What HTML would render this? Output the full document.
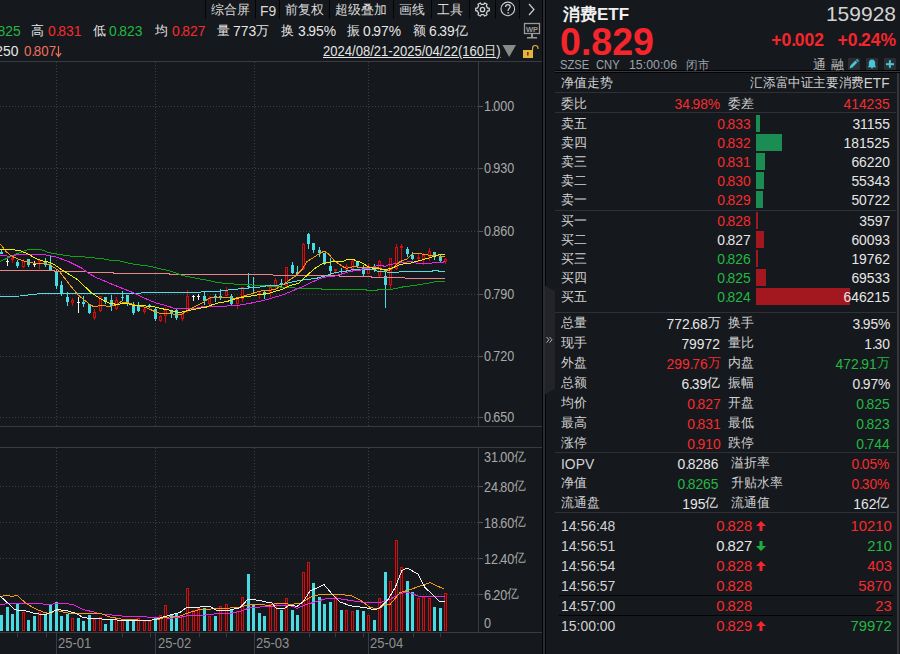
<!DOCTYPE html>
<html><head><meta charset="utf-8"><style>
html,body{margin:0;padding:0;width:900px;height:654px;overflow:hidden;background:#15181c;font-family:"Liberation Sans",sans-serif;}
.t{position:absolute;white-space:nowrap;}
</style></head><body>
<svg width="900" height="654" style="position:absolute;left:0;top:0"><g shape-rendering="crispEdges"><line x1="0" y1="106.5" x2="478" y2="106.5" stroke="#3b3d42" stroke-width="1" stroke-dasharray="1 2" /><line x1="478" y1="106.5" x2="483" y2="106.5" stroke="#555" stroke-width="1" /><line x1="0" y1="168.5" x2="478" y2="168.5" stroke="#3b3d42" stroke-width="1" stroke-dasharray="1 2" /><line x1="478" y1="168.5" x2="483" y2="168.5" stroke="#555" stroke-width="1" /><line x1="0" y1="231.5" x2="478" y2="231.5" stroke="#3b3d42" stroke-width="1" stroke-dasharray="1 2" /><line x1="478" y1="231.5" x2="483" y2="231.5" stroke="#555" stroke-width="1" /><line x1="0" y1="294.5" x2="478" y2="294.5" stroke="#3b3d42" stroke-width="1" stroke-dasharray="1 2" /><line x1="478" y1="294.5" x2="483" y2="294.5" stroke="#555" stroke-width="1" /><line x1="0" y1="356.5" x2="478" y2="356.5" stroke="#3b3d42" stroke-width="1" stroke-dasharray="1 2" /><line x1="478" y1="356.5" x2="483" y2="356.5" stroke="#555" stroke-width="1" /><line x1="0" y1="417.5" x2="478" y2="417.5" stroke="#3b3d42" stroke-width="1" stroke-dasharray="1 2" /><line x1="478" y1="417.5" x2="483" y2="417.5" stroke="#555" stroke-width="1" /><line x1="0" y1="486.5" x2="478" y2="486.5" stroke="#3b3d42" stroke-width="1" stroke-dasharray="1 2" /><line x1="478" y1="486.5" x2="483" y2="486.5" stroke="#555" stroke-width="1" /><line x1="0" y1="522.5" x2="478" y2="522.5" stroke="#3b3d42" stroke-width="1" stroke-dasharray="1 2" /><line x1="478" y1="522.5" x2="483" y2="522.5" stroke="#555" stroke-width="1" /><line x1="0" y1="558.5" x2="478" y2="558.5" stroke="#3b3d42" stroke-width="1" stroke-dasharray="1 2" /><line x1="478" y1="558.5" x2="483" y2="558.5" stroke="#555" stroke-width="1" /><line x1="0" y1="594.5" x2="478" y2="594.5" stroke="#3b3d42" stroke-width="1" stroke-dasharray="1 2" /><line x1="478" y1="594.5" x2="483" y2="594.5" stroke="#555" stroke-width="1" /><line x1="56.5" y1="62" x2="56.5" y2="426" stroke="#3b3d42" stroke-width="1" stroke-dasharray="1 2" /><line x1="56.5" y1="448" x2="56.5" y2="631" stroke="#3b3d42" stroke-width="1" stroke-dasharray="1 2" /><line x1="155.5" y1="62" x2="155.5" y2="426" stroke="#3b3d42" stroke-width="1" stroke-dasharray="1 2" /><line x1="155.5" y1="448" x2="155.5" y2="631" stroke="#3b3d42" stroke-width="1" stroke-dasharray="1 2" /><line x1="254.5" y1="62" x2="254.5" y2="426" stroke="#3b3d42" stroke-width="1" stroke-dasharray="1 2" /><line x1="254.5" y1="448" x2="254.5" y2="631" stroke="#3b3d42" stroke-width="1" stroke-dasharray="1 2" /><line x1="368.5" y1="62" x2="368.5" y2="426" stroke="#3b3d42" stroke-width="1" stroke-dasharray="1 2" /><line x1="368.5" y1="448" x2="368.5" y2="631" stroke="#3b3d42" stroke-width="1" stroke-dasharray="1 2" /><line x1="0" y1="61.5" x2="542" y2="61.5" stroke="#3a3b40" stroke-width="1" /><line x1="0" y1="426.5" x2="542" y2="426.5" stroke="#3a3b40" stroke-width="1" /><line x1="0" y1="447.5" x2="542" y2="447.5" stroke="#3a3b40" stroke-width="1" /><line x1="0" y1="632.5" x2="542" y2="632.5" stroke="#3a3b40" stroke-width="1" /><line x1="478.5" y1="61" x2="478.5" y2="426" stroke="#3a3b40" stroke-width="1" /><line x1="478.5" y1="447" x2="478.5" y2="632" stroke="#3a3b40" stroke-width="1" /><line x1="17.5" y1="633" x2="17.5" y2="637" stroke="#3a3b40" stroke-width="1" /><line x1="46.5" y1="633" x2="46.5" y2="637" stroke="#3a3b40" stroke-width="1" /><line x1="122.5" y1="633" x2="122.5" y2="637" stroke="#3a3b40" stroke-width="1" /><line x1="150.5" y1="633" x2="150.5" y2="637" stroke="#3a3b40" stroke-width="1" /><line x1="199.5" y1="633" x2="199.5" y2="637" stroke="#3a3b40" stroke-width="1" /><line x1="226.5" y1="633" x2="226.5" y2="637" stroke="#3a3b40" stroke-width="1" /><line x1="309.5" y1="633" x2="309.5" y2="637" stroke="#3a3b40" stroke-width="1" /><line x1="335.5" y1="633" x2="335.5" y2="637" stroke="#3a3b40" stroke-width="1" /><line x1="363.5" y1="633" x2="363.5" y2="637" stroke="#3a3b40" stroke-width="1" /><line x1="413.5" y1="633" x2="413.5" y2="637" stroke="#3a3b40" stroke-width="1" /><line x1="440.5" y1="633" x2="440.5" y2="637" stroke="#3a3b40" stroke-width="1" /><line x1="56.5" y1="633" x2="56.5" y2="654" stroke="#3a3b40" stroke-width="1" /><line x1="155.5" y1="633" x2="155.5" y2="654" stroke="#3a3b40" stroke-width="1" /><line x1="254.5" y1="633" x2="254.5" y2="654" stroke="#3a3b40" stroke-width="1" /><line x1="368.5" y1="633" x2="368.5" y2="654" stroke="#3a3b40" stroke-width="1" /></g><g shape-rendering="crispEdges"><line x1="1.5" y1="249.4" x2="1.5" y2="254" stroke="#48dbe2"/><rect x="0" y="252" width="3" height="2" fill="#48dbe2"/><line x1="7.5" y1="259" x2="7.5" y2="266" stroke="#f2f2f2"/><rect x="6" y="261" width="3" height="1" fill="#f2f2f2"/><line x1="12.5" y1="256.6" x2="12.5" y2="262.5" stroke="#dc0a0a"/><rect x="11.5" y="258.5" width="2" height="1" fill="#15181c" stroke="#dc0a0a"/><line x1="17.5" y1="259.8" x2="17.5" y2="268" stroke="#48dbe2"/><rect x="16" y="262" width="3" height="4" fill="#48dbe2"/><line x1="23.5" y1="259" x2="23.5" y2="268" stroke="#dc0a0a"/><rect x="22.5" y="261.5" width="2" height="5" fill="#15181c" stroke="#dc0a0a"/><line x1="28.5" y1="258.7" x2="28.5" y2="266.6" stroke="#48dbe2"/><rect x="27" y="259" width="3" height="6" fill="#48dbe2"/><line x1="34.5" y1="261" x2="34.5" y2="266.6" stroke="#f2f2f2"/><rect x="33" y="264" width="3" height="1" fill="#f2f2f2"/><line x1="39.5" y1="259" x2="39.5" y2="268.7" stroke="#dc0a0a"/><rect x="38.5" y="260.5" width="2" height="1" fill="#15181c" stroke="#dc0a0a"/><line x1="45.5" y1="257.7" x2="45.5" y2="267.3" stroke="#48dbe2"/><rect x="44" y="261" width="3" height="4" fill="#48dbe2"/><line x1="50.5" y1="256.3" x2="50.5" y2="270" stroke="#48dbe2"/><rect x="49" y="265" width="3" height="5" fill="#48dbe2"/><line x1="56.5" y1="270" x2="56.5" y2="288.6" stroke="#48dbe2"/><rect x="55" y="272" width="3" height="14" fill="#48dbe2"/><line x1="61.5" y1="281" x2="61.5" y2="295.5" stroke="#48dbe2"/><rect x="60" y="285" width="3" height="8" fill="#48dbe2"/><line x1="67.5" y1="292" x2="67.5" y2="305.8" stroke="#48dbe2"/><rect x="66" y="297" width="3" height="5" fill="#48dbe2"/><line x1="72.5" y1="298" x2="72.5" y2="305.8" stroke="#dc0a0a"/><rect x="71.5" y="300.5" width="2" height="2" fill="#15181c" stroke="#dc0a0a"/><line x1="78.5" y1="297" x2="78.5" y2="312.7" stroke="#f2f2f2"/><rect x="77" y="302" width="3" height="1" fill="#f2f2f2"/><line x1="83.5" y1="296" x2="83.5" y2="306.5" stroke="#48dbe2"/><rect x="82" y="302" width="3" height="2" fill="#48dbe2"/><line x1="89.5" y1="304" x2="89.5" y2="314" stroke="#48dbe2"/><rect x="88" y="304" width="3" height="9" fill="#48dbe2"/><line x1="94.5" y1="309.3" x2="94.5" y2="319.6" stroke="#dc0a0a"/><rect x="93.5" y="312.5" width="2" height="5" fill="#15181c" stroke="#dc0a0a"/><line x1="100.5" y1="295.5" x2="100.5" y2="312" stroke="#dc0a0a"/><rect x="99.5" y="296.5" width="2" height="14" fill="#15181c" stroke="#dc0a0a"/><line x1="105.5" y1="297" x2="105.5" y2="303.8" stroke="#48dbe2"/><rect x="104" y="297" width="3" height="5" fill="#48dbe2"/><line x1="111.5" y1="294.8" x2="111.5" y2="310.7" stroke="#48dbe2"/><rect x="110" y="300" width="3" height="6" fill="#48dbe2"/><line x1="116.5" y1="297" x2="116.5" y2="310" stroke="#dc0a0a"/><rect x="115.5" y="300.5" width="2" height="8" fill="#15181c" stroke="#dc0a0a"/><line x1="122.5" y1="290.7" x2="122.5" y2="301" stroke="#48dbe2"/><rect x="121" y="297" width="3" height="1" fill="#48dbe2"/><line x1="127.5" y1="294.8" x2="127.5" y2="305.8" stroke="#48dbe2"/><rect x="126" y="295" width="3" height="7" fill="#48dbe2"/><line x1="133.5" y1="302.4" x2="133.5" y2="314.8" stroke="#48dbe2"/><rect x="132" y="304" width="3" height="9" fill="#48dbe2"/><line x1="138.5" y1="301.7" x2="138.5" y2="312" stroke="#48dbe2"/><rect x="137" y="306" width="3" height="5" fill="#48dbe2"/><line x1="144.5" y1="306.5" x2="144.5" y2="314" stroke="#dc0a0a"/><rect x="143.5" y="309.5" width="2" height="2" fill="#15181c" stroke="#dc0a0a"/><line x1="149.5" y1="303.8" x2="149.5" y2="308" stroke="#48dbe2"/><rect x="148" y="305" width="3" height="1" fill="#48dbe2"/><line x1="155.5" y1="307.2" x2="155.5" y2="321" stroke="#48dbe2"/><rect x="154" y="309" width="3" height="10" fill="#48dbe2"/><line x1="160.5" y1="314.8" x2="160.5" y2="322.4" stroke="#dc0a0a"/><rect x="159.5" y="316.5" width="2" height="4" fill="#15181c" stroke="#dc0a0a"/><line x1="165.5" y1="306.5" x2="165.5" y2="323" stroke="#dc0a0a"/><rect x="164.5" y="310.5" width="2" height="5" fill="#15181c" stroke="#dc0a0a"/><line x1="171.5" y1="310" x2="171.5" y2="317.5" stroke="#48dbe2"/><rect x="170" y="311" width="3" height="2" fill="#48dbe2"/><line x1="176.5" y1="308.6" x2="176.5" y2="319.6" stroke="#48dbe2"/><rect x="175" y="310" width="3" height="8" fill="#48dbe2"/><line x1="182.5" y1="312.7" x2="182.5" y2="321" stroke="#dc0a0a"/><rect x="181.5" y="314.5" width="2" height="4" fill="#15181c" stroke="#dc0a0a"/><line x1="187.5" y1="290" x2="187.5" y2="312.7" stroke="#dc0a0a"/><rect x="186.5" y="296.5" width="2" height="14" fill="#15181c" stroke="#dc0a0a"/><line x1="193.5" y1="294.8" x2="193.5" y2="300.8" stroke="#f2f2f2"/><rect x="192" y="296" width="3" height="1" fill="#f2f2f2"/><line x1="198.5" y1="294" x2="198.5" y2="299.7" stroke="#f2f2f2"/><rect x="197" y="296" width="3" height="1" fill="#f2f2f2"/><line x1="204.5" y1="291.4" x2="204.5" y2="304.5" stroke="#48dbe2"/><rect x="203" y="296" width="3" height="5" fill="#48dbe2"/><line x1="209.5" y1="296.2" x2="209.5" y2="305.2" stroke="#dc0a0a"/><rect x="208.5" y="298.5" width="2" height="5" fill="#15181c" stroke="#dc0a0a"/><line x1="215.5" y1="294" x2="215.5" y2="301.7" stroke="#48dbe2"/><rect x="214" y="296" width="3" height="2" fill="#48dbe2"/><line x1="220.5" y1="289.4" x2="220.5" y2="300.4" stroke="#48dbe2"/><rect x="219" y="296" width="3" height="1" fill="#48dbe2"/><line x1="226.5" y1="287.3" x2="226.5" y2="295.5" stroke="#dc0a0a"/><rect x="225.5" y="291.5" width="2" height="4" fill="#15181c" stroke="#dc0a0a"/><line x1="231.5" y1="294" x2="231.5" y2="305.8" stroke="#48dbe2"/><rect x="230" y="296" width="3" height="8" fill="#48dbe2"/><line x1="237.5" y1="297.6" x2="237.5" y2="308.6" stroke="#dc0a0a"/><rect x="236.5" y="299.5" width="2" height="4" fill="#15181c" stroke="#dc0a0a"/><line x1="242.5" y1="286.6" x2="242.5" y2="301.7" stroke="#dc0a0a"/><rect x="241.5" y="287.5" width="2" height="11" fill="#15181c" stroke="#dc0a0a"/><line x1="248.5" y1="272.8" x2="248.5" y2="288" stroke="#48dbe2"/><rect x="247" y="286" width="3" height="1" fill="#48dbe2"/><line x1="253.5" y1="277" x2="253.5" y2="292.8" stroke="#48dbe2"/><rect x="252" y="287" width="3" height="1" fill="#48dbe2"/><line x1="259.5" y1="291.7" x2="259.5" y2="298.6" stroke="#dc0a0a"/><rect x="258.5" y="293.5" width="2" height="1" fill="#15181c" stroke="#dc0a0a"/><line x1="264.5" y1="291" x2="264.5" y2="298.6" stroke="#48dbe2"/><rect x="263" y="292" width="3" height="3" fill="#48dbe2"/><line x1="270.5" y1="284" x2="270.5" y2="296.5" stroke="#dc0a0a"/><rect x="269.5" y="287.5" width="2" height="5" fill="#15181c" stroke="#dc0a0a"/><line x1="275.5" y1="278" x2="275.5" y2="289.7" stroke="#dc0a0a"/><rect x="274.5" y="280.5" width="2" height="5" fill="#15181c" stroke="#dc0a0a"/><line x1="281.5" y1="279.4" x2="281.5" y2="287" stroke="#48dbe2"/><rect x="280" y="283" width="3" height="1" fill="#48dbe2"/><line x1="286.5" y1="267" x2="286.5" y2="288.3" stroke="#dc0a0a"/><rect x="285.5" y="267.5" width="2" height="18" fill="#15181c" stroke="#dc0a0a"/><line x1="292.5" y1="262" x2="292.5" y2="273.8" stroke="#48dbe2"/><rect x="291" y="265" width="3" height="8" fill="#48dbe2"/><line x1="297.5" y1="265.6" x2="297.5" y2="274.5" stroke="#48dbe2"/><rect x="296" y="272" width="3" height="2" fill="#48dbe2"/><line x1="303.5" y1="242.9" x2="303.5" y2="269.7" stroke="#dc0a0a"/><rect x="302.5" y="244.5" width="2" height="24" fill="#15181c" stroke="#dc0a0a"/><line x1="308.5" y1="233.3" x2="308.5" y2="249" stroke="#48dbe2"/><rect x="307" y="234" width="3" height="10" fill="#48dbe2"/><line x1="313.5" y1="242.9" x2="313.5" y2="252.5" stroke="#48dbe2"/><rect x="312" y="243" width="3" height="7" fill="#48dbe2"/><line x1="319.5" y1="247" x2="319.5" y2="257.3" stroke="#48dbe2"/><rect x="318" y="250" width="3" height="3" fill="#48dbe2"/><line x1="324.5" y1="252.5" x2="324.5" y2="264.9" stroke="#48dbe2"/><rect x="323" y="253" width="3" height="10" fill="#48dbe2"/><line x1="330.5" y1="258" x2="330.5" y2="274.5" stroke="#48dbe2"/><rect x="329" y="266" width="3" height="5" fill="#48dbe2"/><line x1="335.5" y1="269.3" x2="335.5" y2="273.8" stroke="#dc0a0a"/><rect x="334.5" y="269.5" width="2" height="1" fill="#15181c" stroke="#dc0a0a"/><line x1="341.5" y1="268.3" x2="341.5" y2="275.2" stroke="#48dbe2"/><rect x="340" y="271" width="3" height="1" fill="#48dbe2"/><line x1="346.5" y1="264.2" x2="346.5" y2="270.4" stroke="#dc0a0a"/><rect x="345.5" y="266.5" width="2" height="3" fill="#15181c" stroke="#dc0a0a"/><line x1="352.5" y1="260" x2="352.5" y2="269.7" stroke="#dc0a0a"/><rect x="351.5" y="261.5" width="2" height="7" fill="#15181c" stroke="#dc0a0a"/><line x1="357.5" y1="260.8" x2="357.5" y2="268.3" stroke="#48dbe2"/><rect x="356" y="262" width="3" height="4" fill="#48dbe2"/><line x1="363.5" y1="265" x2="363.5" y2="276" stroke="#48dbe2"/><rect x="362" y="268" width="3" height="6" fill="#48dbe2"/><line x1="368.5" y1="264.2" x2="368.5" y2="273.8" stroke="#dc0a0a"/><rect x="367.5" y="266.5" width="2" height="7" fill="#15181c" stroke="#dc0a0a"/><line x1="374.5" y1="264.2" x2="374.5" y2="271.8" stroke="#48dbe2"/><rect x="373" y="269" width="3" height="1" fill="#48dbe2"/><line x1="379.5" y1="260" x2="379.5" y2="276.6" stroke="#dc0a0a"/><rect x="378.5" y="261.5" width="2" height="14" fill="#15181c" stroke="#dc0a0a"/><line x1="385.5" y1="269" x2="385.5" y2="307.6" stroke="#48dbe2"/><rect x="384" y="276" width="3" height="9" fill="#48dbe2"/><line x1="390.5" y1="258" x2="390.5" y2="290.4" stroke="#dc0a0a"/><rect x="389.5" y="258.5" width="2" height="26" fill="#15181c" stroke="#dc0a0a"/><line x1="396.5" y1="244.3" x2="396.5" y2="269.7" stroke="#dc0a0a"/><rect x="395.5" y="247.5" width="2" height="21" fill="#15181c" stroke="#dc0a0a"/><line x1="401.5" y1="244.3" x2="401.5" y2="261.5" stroke="#dc0a0a"/><rect x="400.5" y="246.5" width="2" height="1" fill="#15181c" stroke="#dc0a0a"/><line x1="407.5" y1="247" x2="407.5" y2="257.3" stroke="#48dbe2"/><rect x="406" y="249" width="3" height="5" fill="#48dbe2"/><line x1="412.5" y1="251.8" x2="412.5" y2="260" stroke="#48dbe2"/><rect x="411" y="255" width="3" height="4" fill="#48dbe2"/><line x1="418.5" y1="253.5" x2="418.5" y2="262.4" stroke="#dc0a0a"/><rect x="417.5" y="257.5" width="2" height="1" fill="#15181c" stroke="#dc0a0a"/><line x1="423.5" y1="253.2" x2="423.5" y2="264.9" stroke="#dc0a0a"/><rect x="422.5" y="255.5" width="2" height="3" fill="#15181c" stroke="#dc0a0a"/><line x1="429.5" y1="247.7" x2="429.5" y2="260.8" stroke="#dc0a0a"/><rect x="428.5" y="251.5" width="2" height="5" fill="#15181c" stroke="#dc0a0a"/><line x1="434.5" y1="251.8" x2="434.5" y2="260" stroke="#48dbe2"/><rect x="433" y="252" width="3" height="4" fill="#48dbe2"/><line x1="440.5" y1="255.3" x2="440.5" y2="262" stroke="#48dbe2"/><rect x="439" y="257" width="3" height="4" fill="#48dbe2"/><line x1="445.5" y1="258" x2="445.5" y2="263.5" stroke="#dc0a0a"/><rect x="444.5" y="259.5" width="2" height="2" fill="#15181c" stroke="#dc0a0a"/><rect x="0" y="615" width="3" height="16" fill="#48dbe2"/><rect x="6" y="607" width="3" height="24" fill="#48dbe2"/><rect x="11" y="614" width="3" height="17" fill="#48dbe2"/><rect x="16" y="604" width="3" height="27" fill="#48dbe2"/><rect x="22.5" y="612.5" width="2" height="18" fill="#15181c" stroke="#dc0a0a"/><rect x="27" y="620" width="3" height="11" fill="#48dbe2"/><rect x="33" y="616" width="3" height="15" fill="#48dbe2"/><rect x="38.5" y="612.5" width="2" height="18" fill="#15181c" stroke="#dc0a0a"/><rect x="44" y="614" width="3" height="17" fill="#48dbe2"/><rect x="49" y="605" width="3" height="26" fill="#48dbe2"/><rect x="55" y="602" width="3" height="29" fill="#48dbe2"/><rect x="60" y="616" width="3" height="15" fill="#48dbe2"/><rect x="66" y="614" width="3" height="17" fill="#48dbe2"/><rect x="71.5" y="618.5" width="2" height="12" fill="#15181c" stroke="#dc0a0a"/><rect x="77" y="618" width="3" height="13" fill="#48dbe2"/><rect x="82" y="621" width="3" height="10" fill="#48dbe2"/><rect x="88" y="615" width="3" height="16" fill="#48dbe2"/><rect x="93.5" y="619.5" width="2" height="11" fill="#15181c" stroke="#dc0a0a"/><rect x="99.5" y="617.5" width="2" height="13" fill="#15181c" stroke="#dc0a0a"/><rect x="104" y="624" width="3" height="7" fill="#48dbe2"/><rect x="110" y="619" width="3" height="12" fill="#48dbe2"/><rect x="115.5" y="619.5" width="2" height="11" fill="#15181c" stroke="#dc0a0a"/><rect x="121.5" y="620.5" width="2" height="10" fill="#15181c" stroke="#dc0a0a"/><rect x="126" y="620" width="3" height="11" fill="#48dbe2"/><rect x="132" y="619" width="3" height="12" fill="#48dbe2"/><rect x="137.5" y="618.5" width="2" height="12" fill="#15181c" stroke="#dc0a0a"/><rect x="143.5" y="621.5" width="2" height="9" fill="#15181c" stroke="#dc0a0a"/><rect x="148.5" y="621.5" width="2" height="9" fill="#15181c" stroke="#dc0a0a"/><rect x="154" y="618" width="3" height="13" fill="#48dbe2"/><rect x="159.5" y="615.5" width="2" height="15" fill="#15181c" stroke="#dc0a0a"/><rect x="164.5" y="605.5" width="2" height="25" fill="#15181c" stroke="#dc0a0a"/><rect x="170" y="615" width="3" height="16" fill="#48dbe2"/><rect x="175" y="614" width="3" height="17" fill="#48dbe2"/><rect x="181.5" y="616.5" width="2" height="14" fill="#15181c" stroke="#dc0a0a"/><rect x="186.5" y="588.5" width="2" height="42" fill="#15181c" stroke="#dc0a0a"/><rect x="192.5" y="610.5" width="2" height="20" fill="#15181c" stroke="#dc0a0a"/><rect x="197.5" y="608.5" width="2" height="22" fill="#15181c" stroke="#dc0a0a"/><rect x="203" y="608" width="3" height="23" fill="#48dbe2"/><rect x="208.5" y="616.5" width="2" height="14" fill="#15181c" stroke="#dc0a0a"/><rect x="214" y="616" width="3" height="15" fill="#48dbe2"/><rect x="219.5" y="606.5" width="2" height="24" fill="#15181c" stroke="#dc0a0a"/><rect x="225.5" y="604.5" width="2" height="26" fill="#15181c" stroke="#dc0a0a"/><rect x="230" y="610" width="3" height="21" fill="#48dbe2"/><rect x="236.5" y="611.5" width="2" height="19" fill="#15181c" stroke="#dc0a0a"/><rect x="241.5" y="597.5" width="2" height="33" fill="#15181c" stroke="#dc0a0a"/><rect x="247" y="574" width="3" height="57" fill="#48dbe2"/><rect x="252" y="605" width="3" height="26" fill="#48dbe2"/><rect x="258" y="613" width="3" height="18" fill="#48dbe2"/><rect x="263" y="616" width="3" height="15" fill="#48dbe2"/><rect x="269.5" y="604.5" width="2" height="26" fill="#15181c" stroke="#dc0a0a"/><rect x="274.5" y="603.5" width="2" height="27" fill="#15181c" stroke="#dc0a0a"/><rect x="280" y="610" width="3" height="21" fill="#48dbe2"/><rect x="285.5" y="598.5" width="2" height="32" fill="#15181c" stroke="#dc0a0a"/><rect x="291" y="610" width="3" height="21" fill="#48dbe2"/><rect x="296" y="615" width="3" height="16" fill="#48dbe2"/><rect x="302.5" y="572.5" width="2" height="58" fill="#15181c" stroke="#dc0a0a"/><rect x="307.5" y="562.5" width="2" height="68" fill="#15181c" stroke="#dc0a0a"/><rect x="312" y="583" width="3" height="48" fill="#48dbe2"/><rect x="318" y="597" width="3" height="34" fill="#48dbe2"/><rect x="323" y="604" width="3" height="27" fill="#48dbe2"/><rect x="329" y="602" width="3" height="29" fill="#48dbe2"/><rect x="334.5" y="596.5" width="2" height="34" fill="#15181c" stroke="#dc0a0a"/><rect x="340" y="610" width="3" height="21" fill="#48dbe2"/><rect x="345.5" y="610.5" width="2" height="20" fill="#15181c" stroke="#dc0a0a"/><rect x="351.5" y="611.5" width="2" height="19" fill="#15181c" stroke="#dc0a0a"/><rect x="356" y="610" width="3" height="21" fill="#48dbe2"/><rect x="362" y="611" width="3" height="20" fill="#48dbe2"/><rect x="367.5" y="615.5" width="2" height="15" fill="#15181c" stroke="#dc0a0a"/><rect x="373" y="620" width="3" height="11" fill="#48dbe2"/><rect x="378.5" y="598.5" width="2" height="32" fill="#15181c" stroke="#dc0a0a"/><rect x="384" y="572" width="3" height="59" fill="#48dbe2"/><rect x="389.5" y="581.5" width="2" height="49" fill="#15181c" stroke="#dc0a0a"/><rect x="395.5" y="540.5" width="2" height="90" fill="#15181c" stroke="#dc0a0a"/><rect x="400.5" y="567.5" width="2" height="63" fill="#15181c" stroke="#dc0a0a"/><rect x="406" y="581" width="3" height="50" fill="#48dbe2"/><rect x="411" y="592" width="3" height="39" fill="#48dbe2"/><rect x="417.5" y="598.5" width="2" height="32" fill="#15181c" stroke="#dc0a0a"/><rect x="422.5" y="597.5" width="2" height="33" fill="#15181c" stroke="#dc0a0a"/><rect x="428.5" y="598.5" width="2" height="32" fill="#15181c" stroke="#dc0a0a"/><rect x="433" y="607" width="3" height="24" fill="#48dbe2"/><rect x="439" y="608" width="3" height="23" fill="#48dbe2"/><rect x="444.5" y="593.5" width="2" height="37" fill="#15181c" stroke="#dc0a0a"/></g><polyline fill="none" stroke="#e88585" stroke-width="1" shape-rendering="crispEdges" points="0,270.5 54.3,270.5 54.8,271.3 86.7,271.3 87.2,272.5 113.5,272.5 114,273.4 169.3,273.4 169.8,274.5 272.8,274.5 273.3,275.5 339.2,275.6 340,276.3 371.3,276.3 372,277.5 404.3,277.5 405.2,278.5 445.1,278.5"/><polyline fill="none" stroke="#10a31a" stroke-width="1" shape-rendering="crispEdges" points="0,261.4 4.6,259.5 12.2,255.6 19.9,252.6 26,250.3 30.6,249.1 39.8,249.1 42.8,250.3 48.9,252.6 60,254.5 70,256 85,257 103,258.8 110,260.3 120,261 124.7,262.3 131.3,263.7 136.7,264.6 143.3,265.4 150.7,266.3 155.3,267.7 163.3,269.4 170,271 176.7,273.3 182,275.3 190,277 198,278.6 207.3,280.3 216.7,282.3 224.7,283.3 239.9,284.5 256.7,285.2 262,285.6 280,287 294.3,287 295.3,288.3 321,288.3 322,289.3 365.9,289.3 366.5,290.5 377,290.5 377.5,289.5 385,289.7 392.6,289.2 401.8,287.1 414.4,285.5 427,283.4 437.1,281.3 445.1,281.3"/><polyline fill="none" stroke="#55dbe2" stroke-width="1" shape-rendering="crispEdges" points="0,296.5 20,296 37,294 53,293.4 141,293.4 141.5,292.2 201,292.2 201.5,291.2 220,291.3 223,290.6 233.8,289.4 245.2,288.3 262,286.8 267.4,285.6 281.4,284.9 288.9,282.8 298.5,280.6 307.1,279.5 315.6,278.5 324.2,276.3 330,274.4 333,273.3 338.4,272.1 345.3,271.4 349.1,270.2 355.2,269.5 372.8,269.3 375.9,270.6 377.4,271.4 385,271.2 388.4,272.4 398.5,272.4 399.3,271.3 432.1,271.3 432.9,270.3 438,270.3 438.8,271.3 445.1,271.3"/><polyline fill="none" stroke="#e524e5" stroke-width="1" shape-rendering="crispEdges" points="0,255.3 5,255.7 10,256.4 13.5,255.3 20,254.6 26,254.2 30.5,255 31.5,254.2 43,254.2 48.5,255.7 54,256.4 60,258.3 63.8,260 68.3,261.4 82.1,268.3 88.5,273.3 95.9,277.4 113,284.6 133,292.6 142.1,297.2 155.9,302.9 168.8,306.4 174.2,308.3 195.6,308.3 201.7,306.8 220,306.3 230,305.9 239.9,305.1 250.6,303.2 259.8,301.3 268.9,299 283.6,294.5 301.7,287 319.9,278.5 328.5,276.3 333,276.5 341.5,274 349.1,271.8 356,270.2 359.8,270.2 366.7,268.3 371.3,267.9 375.9,266 379.7,265.3 385,266.3 388.4,264.9 393.4,264 400.1,262.8 410.2,261.7 415.3,262.3 416.1,263.4 431.3,263.4 433,262.3 443,262.3 445.1,261.2"/><polyline fill="none" stroke="#f39a12" stroke-width="1" shape-rendering="crispEdges" points="0,244.2 2.3,246.5 4.6,249.5 5.7,251.1 9.9,254.9 13.8,257.2 19.1,259.5 26.8,261.8 34.4,263.3 45.9,263.7 49.7,264.8 53.5,267.1 59.2,271 68.3,283 77.5,294.4 90.4,305 93.1,306.3 96.8,306.3 99.5,305.4 110,306.4 116.1,305.2 120.7,301.8 129.1,303 136.8,305.6 144.4,307.1 152,310.2 157.4,312.9 165,313.3 172.6,314 180.3,314.8 186.4,311.3 192.5,307.5 199.4,304.5 204.8,301.4 208.6,298.3 212.4,297.6 223.8,297.5 229.2,297.8 235.3,298.2 240.6,297.1 245.2,295.5 252.1,293.6 258.2,291.7 262.8,290.6 273.5,289.8 275,289.7 285.7,282.8 296.4,275.3 301.7,269.9 307.1,261.4 312.4,258.2 319.9,253.3 324.2,251.2 328.5,253.9 334.6,261.1 339.9,264.5 343.8,267.2 346.8,268.3 349.9,267.2 354.5,266.8 360.6,267.2 368.2,267.2 375.9,267.6 380.5,268.3 383.5,269.8 385,271.2 390,269.9 395.9,265.3 400.1,261.5 406.9,259 412.8,253.3 421.2,253.3 422.8,254.5 427.1,254.5 428.7,255.6 435.5,255.4 438.8,256 445.1,256.6"/><polyline fill="none" stroke="#f2f200" stroke-width="1" shape-rendering="crispEdges" points="0,249.1 14.5,249.5 15.3,250.7 20.6,250.7 22.9,251.8 29,254.5 32.1,256.4 38.2,259.5 44.3,261.4 48.9,262.1 53.5,264.1 60,268.6 63.8,271 77.5,279.7 91.3,292.6 98.6,297.6 105,301.3 110,303.3 117.6,304.5 125.3,303 133,305.2 152,306.4 163.5,309 169.6,310.2 179.5,312.5 188,310.6 197.1,308.7 206.3,307.1 210.9,305.2 218.5,302.9 227.6,301.3 235.3,299 242.9,297.1 252.1,295.9 260.5,294.4 268.9,293.3 273.5,291.7 281.4,289.7 288.9,286 298.5,283.3 307.1,275.3 315.6,267.8 322.1,264 328.5,262.4 334.6,261.4 343.8,261.4 344.5,260.3 349.1,259.5 353.7,259.5 356,261.1 359.8,261.8 363.6,263.7 367.5,266.4 371.3,267.9 375.9,268.3 380.5,269.1 385,269.5 390,268.6 395.9,266.5 400.1,264.4 410.2,263.2 415.3,261.7 422.8,259.8 427.1,258.5 435.5,256 438.8,254.8 445.1,254.5"/><polyline fill="none" stroke="#e524e5" stroke-width="1" shape-rendering="crispEdges" points="0,604.3 15,603.4 42,603.5 45,604.8 52,604.8 54,603.4 65,603.4 73,604.5 82,609 85,610.1 92,611.5 100,613.8 112,615 125,616.3 147,617 155,617.3 170,618.2 180,617.5 190,615 205,615 220,613.4 230,613.4 240,611.5 250,607.7 255,607.3 275,606 290,605.5 297,608.4 305,605 318,601 325,599 340,598.8 350,600.4 365,602.5 380,602.5 390,599.5 400,593.4 408,592.3 420,596.6 445,596.6"/><polyline fill="none" stroke="#f39a12" stroke-width="1" shape-rendering="crispEdges" points="0,596.7 6,595.3 12,596.5 17,595 25,602.6 35,608.7 45,612.8 50,613.5 56,610 60,611.4 70,613.5 85,613.4 102,614 110,617 122,619.2 145,620.4 155,619.8 160,619 165,617.3 175,616.5 180,616 190,612.3 200,609.5 215,608.8 230,608 240,607 248,605 253,604.2 260,604.5 270,605.5 276,603.4 285,603.4 290,604.5 300,603.4 312,596.4 318,595 335,594.5 345,595 352,596 360,600 370,607.3 378,609 385,605 390,604.5 400,592.6 410,589.7 420,586 430,582.7 437,586 444,588.8"/><polyline fill="none" stroke="#f2f2f2" stroke-width="1" shape-rendering="crispEdges" points="0,596 10,605 15,609.8 25,610.7 35,613.5 45,614.7 50,612.7 57,609.8 65,610.2 75,613 83,617.4 92,618.8 102,619 110,619.6 125,620.5 145,620.4 155,619.8 160,618 165,616.5 175,613.6 180,612.5 187,607 195,608 200,607 210,606.5 217,610.6 230,610 240,607.7 248,599.2 253,599.5 260,600.6 265,601.8 272,603 276,608 283,609 290,605 297,606.5 303,602 310,591 318,587.4 324,584.5 332,594 340,602 350,605.7 365,607.6 375,610 380,607.6 388,599.5 395,588 402,570.4 407,568 418,574 425,587.5 432,594 440,602 445,601"/></svg>
<div style="position:absolute;left:555px;top:70px;width:345px;height:3px;background:#040405"></div><div style="position:absolute;left:555px;top:71px;width:345px;height:1px;background:#38393e"></div><div style="position:absolute;left:555px;top:92px;width:341px;height:1px;background:#2e3035"></div><div style="position:absolute;left:555px;top:112px;width:341px;height:1px;background:#2e3035"></div><div style="position:absolute;left:555px;top:210px;width:341px;height:1px;background:#2e3035"></div><div style="position:absolute;left:555px;top:312px;width:341px;height:1px;background:#2e3035"></div><div style="position:absolute;left:555px;top:452px;width:341px;height:1px;background:#2e3035"></div><div style="position:absolute;left:555px;top:512px;width:341px;height:1px;background:#2e3035"></div><div style="position:absolute;left:559px;top:595px;width:334px;height:1px;background:#040405"></div><div style="position:absolute;left:559px;top:615px;width:334px;height:1px;background:#040405"></div><div style="position:absolute;left:897px;top:73px;width:2px;height:581px;background:#34363b"></div><div style="position:absolute;left:542px;top:0;width:4px;height:654px;background:#050506"></div><div style="position:absolute;left:543px;top:0;width:2px;height:654px;background:#2b2c31"></div><svg style="position:absolute;left:545px;top:286px" width="11" height="110"><path d="M0 0 L1 0 L10 5 L10 103 L1 108 L0 108Z" fill="#232429"/><path d="M1.5 51 L4 53.8 L1.5 56.6 M4.5 51 L7 53.8 L4.5 56.6" fill="none" stroke="#b0b0b0" stroke-width="1"/></svg>
<div style="position:absolute;left:756px;top:115px;width:4px;height:17px;background:#1b8c52"></div><div style="position:absolute;left:756px;top:134px;width:26px;height:17px;background:#1b8c52"></div><div style="position:absolute;left:756px;top:153px;width:9px;height:17px;background:#1b8c52"></div><div style="position:absolute;left:756px;top:172px;width:8px;height:17px;background:#1b8c52"></div><div style="position:absolute;left:756px;top:191px;width:7px;height:17px;background:#1b8c52"></div><div style="position:absolute;left:756px;top:212px;width:1.5px;height:17px;background:#a3171f"></div><div style="position:absolute;left:756px;top:231px;width:8px;height:17px;background:#a3171f"></div><div style="position:absolute;left:756px;top:250px;width:2px;height:17px;background:#a3171f"></div><div style="position:absolute;left:756px;top:269px;width:10px;height:17px;background:#a3171f"></div><div style="position:absolute;left:756px;top:288px;width:94px;height:17px;background:#a3171f"></div>

<svg style="position:absolute;left:473.5px;top:0.5px" width="17" height="17" viewBox="0 0 17 17"><path d="M13.00 5.90 L13.47 6.98 L15.27 7.18 L15.27 9.82 L13.47 10.02 L13.00 11.10 L12.30 12.05 L13.03 13.71 L10.75 15.02 L9.67 13.57 L8.50 13.70 L7.33 13.57 L6.25 15.02 L3.97 13.71 L4.70 12.05 L4.00 11.10 L3.53 10.02 L1.73 9.82 L1.73 7.18 L3.53 6.98 L4.00 5.90 L4.70 4.95 L3.97 3.29 L6.25 1.98 L7.33 3.43 L8.50 3.30 L9.67 3.43 L10.75 1.98 L13.03 3.29 L12.30 4.95Z" fill="none" stroke="#d0d0d0" stroke-width="1.3" stroke-linejoin="round"/><circle cx="8.5" cy="8.5" r="2.2" fill="none" stroke="#d0d0d0" stroke-width="1.3"/></svg>
<svg style="position:absolute;left:500px;top:1px" width="17" height="17" viewBox="0 0 17 17"><circle cx="7.8" cy="7.9" r="6.8" fill="none" stroke="#d0d0d0" stroke-width="1.1"/><path d="M5.6 6 C5.6 4.5 6.6 3.7 7.9 3.7 C9.3 3.7 10.2 4.6 10.2 5.8 C10.2 7.4 8.1 7.6 8.1 9.4 L8.1 10" fill="none" stroke="#d0d0d0" stroke-width="1.2"/><circle cx="8.1" cy="11.9" r="0.8" fill="#d0d0d0"/></svg>
<svg style="position:absolute;left:527px;top:3px" width="10" height="13"><path d="M2 1 L7 6.5 L2 12" fill="none" stroke="#cfcfcf" stroke-width="1.2"/></svg>
<svg style="position:absolute;left:523px;top:22px" width="18" height="17"><rect x="1.5" y="1.5" width="15" height="10" fill="none" stroke="#9a9a9a" stroke-width="1.3"/><text x="9" y="10" font-size="7.5" font-weight="bold" text-anchor="middle" fill="#9a9a9a" font-family="Liberation Sans">WP</text><rect x="8" y="12" width="2" height="3" fill="#9a9a9a"/><rect x="4" y="15" width="10" height="1.5" fill="#9a9a9a"/></svg>
<svg style="position:absolute;left:502px;top:44px" width="15" height="14"><path d="M0.5 1 L14 1 L7.2 13Z" fill="#8a8a8a"/></svg>
<svg style="position:absolute;left:522px;top:43px" width="18" height="16"><path d="M10.6 7.2 L10.6 5.2 A2.7 2.7 0 0 1 16 5.2 L16 6" fill="none" stroke="#e8b33a" stroke-width="1.1"/><rect x="1" y="7" width="10" height="8" fill="#e8b33a"/><rect x="5.2" y="9" width="1.3" height="3.5" fill="#3a2a00"/></svg>
<div style="position:absolute;left:848px;top:58px;width:12px;height:12px;background:#2b2d32;border-radius:1px"></div>
<div style="position:absolute;left:866px;top:58px;width:12px;height:12px;background:#2b2d32;border-radius:1px"></div>
<div style="position:absolute;left:884px;top:58px;width:12px;height:12px;background:#2b2d32;border-radius:1px"></div>
<svg style="position:absolute;left:848px;top:58px" width="12" height="12"><path d="M1.6 10.4 L2.4 7.6 L7.4 2.6 L9.4 4.6 L4.4 9.6 Z M8 2 L9 1 L11 3 L10 4Z" fill="#46c6d6"/></svg>
<svg style="position:absolute;left:866px;top:58px" width="12" height="12"><path d="M6 1.5 C3.6 1.5 2.8 3.3 2.8 5.5 L2.8 7.8 L1.8 9.3 L10.2 9.3 L9.2 7.8 L9.2 5.5 C9.2 3.3 8.4 1.5 6 1.5Z M4.8 9.2 L7.2 9.2 L6 10.8Z" fill="#46c6d6"/></svg>
<svg style="position:absolute;left:884px;top:58px" width="12" height="12"><rect x="2" y="5.2" width="8" height="2" fill="#46c6d6"/><rect x="4.9" y="2.2" width="2" height="7.6" fill="#46c6d6"/></svg>

<svg style="position:absolute;left:756px;top:521px" width="10" height="10"><path d="M5 0 L10 5 L6.5 5 L6.5 10 L3.5 10 L3.5 5 L0 5Z" fill="#f5252c"/></svg><svg style="position:absolute;left:756px;top:541px" width="10" height="10"><path d="M5 10 L10 5 L6.5 5 L6.5 0 L3.5 0 L3.5 5 L0 5Z" fill="#1fae3d"/></svg><svg style="position:absolute;left:756px;top:561px" width="10" height="10"><path d="M5 0 L10 5 L6.5 5 L6.5 10 L3.5 10 L3.5 5 L0 5Z" fill="#f5252c"/></svg><svg style="position:absolute;left:756px;top:621px" width="10" height="10"><path d="M5 0 L10 5 L6.5 5 L6.5 10 L3.5 10 L3.5 5 L0 5Z" fill="#f5252c"/></svg>
<div style="position:absolute;left:205px;top:0;width:1px;height:19px;background:#050506"></div><div style="position:absolute;left:255px;top:0;width:1px;height:19px;background:#050506"></div><div style="position:absolute;left:279px;top:0;width:1px;height:19px;background:#050506"></div><div style="position:absolute;left:329px;top:0;width:1px;height:19px;background:#050506"></div><div style="position:absolute;left:393px;top:0;width:1px;height:19px;background:#050506"></div><div style="position:absolute;left:431px;top:0;width:1px;height:19px;background:#050506"></div><div style="position:absolute;left:469px;top:0;width:1px;height:19px;background:#050506"></div><div style="position:absolute;left:495px;top:0;width:1px;height:19px;background:#050506"></div><div style="position:absolute;left:519px;top:0;width:1px;height:19px;background:#050506"></div><div class="t" style="left:211px;top:0.8000000000000007px;color:#dadada;font-size:14px;line-height:20px;font-weight:normal;transform:scaleX(0.99);transform-origin:left center;"><span style="font-size:0.9em;position:relative;top:-1.5px">综合屏</span></div><div class="t" style="left:260px;top:0.8000000000000007px;color:#dadada;font-size:14px;line-height:20px;font-weight:normal;transform:scaleX(0.99);transform-origin:left center;">F9</div><div class="t" style="left:285px;top:0.8000000000000007px;color:#dadada;font-size:14px;line-height:20px;font-weight:normal;transform:scaleX(0.99);transform-origin:left center;"><span style="font-size:0.9em;position:relative;top:-1.5px">前复权</span></div><div class="t" style="left:335px;top:0.8000000000000007px;color:#dadada;font-size:14px;line-height:20px;font-weight:normal;transform:scaleX(0.99);transform-origin:left center;"><span style="font-size:0.9em;position:relative;top:-1.5px">超级叠加</span></div><div class="t" style="left:399px;top:0.8000000000000007px;color:#dadada;font-size:14px;line-height:20px;font-weight:normal;transform:scaleX(0.99);transform-origin:left center;"><span style="font-size:0.9em;position:relative;top:-1.5px">画线</span></div><div class="t" style="left:437px;top:0.8000000000000007px;color:#dadada;font-size:14px;line-height:20px;font-weight:normal;transform:scaleX(0.99);transform-origin:left center;"><span style="font-size:0.9em;position:relative;top:-1.5px">工具</span></div><div class="t" style="right:879px;top:21.0px;color:#22b843;font-size:14px;line-height:20px;font-weight:normal;transform:scaleX(0.99);transform-origin:right center;">0<span style="letter-spacing:-1.3px">.</span>825</div><div class="t" style="left:31px;top:21.0px;color:#e6e6e6;font-size:14px;line-height:20px;font-weight:normal;transform:scaleX(0.99);transform-origin:left center;"><span style="font-size:0.9em;position:relative;top:-1.5px">高</span></div><div class="t" style="left:47.5px;top:21.0px;color:#f72b2e;font-size:14px;line-height:20px;font-weight:normal;transform:scaleX(0.99);transform-origin:left center;">0<span style="letter-spacing:-1.3px">.</span>831</div><div class="t" style="left:92.5px;top:21.0px;color:#e6e6e6;font-size:14px;line-height:20px;font-weight:normal;transform:scaleX(0.99);transform-origin:left center;"><span style="font-size:0.9em;position:relative;top:-1.5px">低</span></div><div class="t" style="left:109px;top:21.0px;color:#22b843;font-size:14px;line-height:20px;font-weight:normal;transform:scaleX(0.99);transform-origin:left center;">0<span style="letter-spacing:-1.3px">.</span>823</div><div class="t" style="left:155px;top:21.0px;color:#e6e6e6;font-size:14px;line-height:20px;font-weight:normal;transform:scaleX(0.99);transform-origin:left center;"><span style="font-size:0.9em;position:relative;top:-1.5px">均</span></div><div class="t" style="left:171.7px;top:21.0px;color:#f72b2e;font-size:14px;line-height:20px;font-weight:normal;transform:scaleX(0.99);transform-origin:left center;">0<span style="letter-spacing:-1.3px">.</span>827</div><div class="t" style="left:216.7px;top:21.0px;color:#e6e6e6;font-size:14px;line-height:20px;font-weight:normal;transform:scaleX(0.99);transform-origin:left center;"><span style="font-size:0.9em;position:relative;top:-1.5px">量</span></div><div class="t" style="left:233px;top:21.0px;color:#e6e6e6;font-size:14px;line-height:20px;font-weight:normal;transform:scaleX(0.99);transform-origin:left center;">773<span style="font-size:0.9em;position:relative;top:-1.5px">万</span></div><div class="t" style="left:281px;top:21.0px;color:#e6e6e6;font-size:14px;line-height:20px;font-weight:normal;transform:scaleX(0.99);transform-origin:left center;"><span style="font-size:0.9em;position:relative;top:-1.5px">换</span></div><div class="t" style="left:297.5px;top:21.0px;color:#e6e6e6;font-size:14px;line-height:20px;font-weight:normal;transform:scaleX(0.99);transform-origin:left center;">3<span style="letter-spacing:-1.3px">.</span>95%</div><div class="t" style="left:346.7px;top:21.0px;color:#e6e6e6;font-size:14px;line-height:20px;font-weight:normal;transform:scaleX(0.99);transform-origin:left center;"><span style="font-size:0.9em;position:relative;top:-1.5px">振</span></div><div class="t" style="left:363px;top:21.0px;color:#e6e6e6;font-size:14px;line-height:20px;font-weight:normal;transform:scaleX(0.99);transform-origin:left center;">0<span style="letter-spacing:-1.3px">.</span>97%</div><div class="t" style="left:412.5px;top:21.0px;color:#e6e6e6;font-size:14px;line-height:20px;font-weight:normal;transform:scaleX(0.99);transform-origin:left center;"><span style="font-size:0.9em;position:relative;top:-1.5px">额</span></div><div class="t" style="left:429px;top:21.0px;color:#e6e6e6;font-size:14px;line-height:20px;font-weight:normal;transform:scaleX(0.99);transform-origin:left center;">6<span style="letter-spacing:-1.3px">.</span>39<span style="font-size:0.9em;position:relative;top:-1.5px">亿</span></div><div class="t" style="right:881.7px;top:41.0px;color:#e6e6e6;font-size:14px;line-height:20px;font-weight:normal;transform:scaleX(0.99);transform-origin:right center;">MA250</div><div class="t" style="left:24px;top:41.0px;color:#f0705c;font-size:14px;line-height:20px;font-weight:normal;transform:scaleX(0.95);transform-origin:left center;">0<span style="letter-spacing:-1.3px">.</span>807</div><svg style="position:absolute;left:55px;top:46px" width="8" height="12"><path d="M3.5 0 L3.5 10 M0.8 7.2 L3.5 10.5 L6.2 7.2" fill="none" stroke="#f0705c" stroke-width="1.2"/></svg><div class="t" style="left:323.3px;top:41.0px;color:#e6e6e6;font-size:14px;line-height:20px;font-weight:normal;transform:scaleX(0.932);transform-origin:left center;text-decoration:underline;">2024/08/21-2025/04/22(160<span style="font-size:0.9em;position:relative;top:-1.5px">日</span>)</div><div class="t" style="left:483.5px;top:96.0px;color:#a9a9a9;font-size:14px;line-height:20px;font-weight:normal;transform:scaleX(0.9);transform-origin:left center;">1<span style="letter-spacing:-1.3px">.</span>000</div><div class="t" style="left:483.5px;top:158.0px;color:#a9a9a9;font-size:14px;line-height:20px;font-weight:normal;transform:scaleX(0.9);transform-origin:left center;">0<span style="letter-spacing:-1.3px">.</span>930</div><div class="t" style="left:483.5px;top:221.0px;color:#a9a9a9;font-size:14px;line-height:20px;font-weight:normal;transform:scaleX(0.9);transform-origin:left center;">0<span style="letter-spacing:-1.3px">.</span>860</div><div class="t" style="left:483.5px;top:284.0px;color:#a9a9a9;font-size:14px;line-height:20px;font-weight:normal;transform:scaleX(0.9);transform-origin:left center;">0<span style="letter-spacing:-1.3px">.</span>790</div><div class="t" style="left:483.5px;top:346.0px;color:#a9a9a9;font-size:14px;line-height:20px;font-weight:normal;transform:scaleX(0.9);transform-origin:left center;">0<span style="letter-spacing:-1.3px">.</span>720</div><div class="t" style="left:483.5px;top:407.0px;color:#a9a9a9;font-size:14px;line-height:20px;font-weight:normal;transform:scaleX(0.9);transform-origin:left center;">0<span style="letter-spacing:-1.3px">.</span>650</div><div class="t" style="left:483.5px;top:447.0px;color:#a9a9a9;font-size:14px;line-height:20px;font-weight:normal;transform:scaleX(0.9);transform-origin:left center;">31<span style="letter-spacing:-1.3px">.</span>00<span style="font-size:0.9em;position:relative;top:-1.5px">亿</span></div><div class="t" style="left:483.5px;top:476.5px;color:#a9a9a9;font-size:14px;line-height:20px;font-weight:normal;transform:scaleX(0.9);transform-origin:left center;">24<span style="letter-spacing:-1.3px">.</span>80<span style="font-size:0.9em;position:relative;top:-1.5px">亿</span></div><div class="t" style="left:483.5px;top:512.5px;color:#a9a9a9;font-size:14px;line-height:20px;font-weight:normal;transform:scaleX(0.9);transform-origin:left center;">18<span style="letter-spacing:-1.3px">.</span>60<span style="font-size:0.9em;position:relative;top:-1.5px">亿</span></div><div class="t" style="left:483.5px;top:548.5px;color:#a9a9a9;font-size:14px;line-height:20px;font-weight:normal;transform:scaleX(0.9);transform-origin:left center;">12<span style="letter-spacing:-1.3px">.</span>40<span style="font-size:0.9em;position:relative;top:-1.5px">亿</span></div><div class="t" style="left:483.5px;top:584.5px;color:#a9a9a9;font-size:14px;line-height:20px;font-weight:normal;transform:scaleX(0.9);transform-origin:left center;">6<span style="letter-spacing:-1.3px">.</span>20<span style="font-size:0.9em;position:relative;top:-1.5px">亿</span></div><div class="t" style="left:483.5px;top:612.5px;color:#a9a9a9;font-size:14px;line-height:20px;font-weight:normal;transform:scaleX(0.9);transform-origin:left center;">0</div><div class="t" style="left:58px;top:632.5px;color:#8f8f8f;font-size:14px;line-height:20px;font-weight:normal;transform:scaleX(0.93);transform-origin:left center;">25-01</div><div class="t" style="left:157.5px;top:632.5px;color:#8f8f8f;font-size:14px;line-height:20px;font-weight:normal;transform:scaleX(0.93);transform-origin:left center;">25-02</div><div class="t" style="left:255.5px;top:632.5px;color:#8f8f8f;font-size:14px;line-height:20px;font-weight:normal;transform:scaleX(0.93);transform-origin:left center;">25-03</div><div class="t" style="left:370px;top:632.5px;color:#8f8f8f;font-size:14px;line-height:20px;font-weight:normal;transform:scaleX(0.93);transform-origin:left center;">25-04</div><div class="t" style="left:563px;top:3.0px;color:#f0f0f0;font-size:17px;line-height:24px;font-weight:bold;">消费ETF</div><div class="t" style="right:4px;top:2.0px;color:#d4d4d4;font-size:21px;line-height:24px;font-weight:normal;">159928</div><div class="t" style="left:560px;top:22.299999999999997px;color:#f5252c;font-size:38.5px;line-height:40px;font-weight:bold;transform:scaleX(0.975);transform-origin:left center;">0.829</div><div class="t" style="right:4px;top:29.0px;color:#f5252c;font-size:17.5px;line-height:22px;font-weight:bold;">+0<span style="letter-spacing:-1.3px">.</span>24%</div><div class="t" style="right:76px;top:29.0px;color:#f5252c;font-size:17.5px;line-height:22px;font-weight:bold;">+0<span style="letter-spacing:-1.3px">.</span>002</div><div class="t" style="left:559.5px;top:54.5px;color:#9da3ab;font-size:13px;line-height:20px;font-weight:normal;transform:scaleX(0.86);transform-origin:left center;">SZSE</div><div class="t" style="left:596px;top:54.5px;color:#9da3ab;font-size:13px;line-height:20px;font-weight:normal;transform:scaleX(0.86);transform-origin:left center;">CNY</div><div class="t" style="left:629px;top:54.5px;color:#9da3ab;font-size:13px;line-height:20px;font-weight:normal;transform:scaleX(0.95);transform-origin:left center;">15:00:06</div><div class="t" style="left:685.5px;top:55.0px;color:#9da3ab;font-size:12px;line-height:20px;font-weight:normal;transform:scaleX(0.96);transform-origin:left center;">闭市</div><div class="t" style="left:812.5px;top:54.8px;color:#bdbdbd;font-size:12.5px;line-height:20px;font-weight:normal;">通</div><div class="t" style="left:830.5px;top:54.8px;color:#bdbdbd;font-size:12.5px;line-height:20px;font-weight:normal;">融</div><div class="t" style="left:561px;top:73.0px;color:#d2d2d2;font-size:14px;line-height:20px;font-weight:normal;transform:scaleX(0.99);transform-origin:left center;"><span style="font-size:0.9em;position:relative;top:-1.5px">净值走势</span></div><div class="t" style="right:11px;top:73.0px;color:#d2d2d2;font-size:14px;line-height:20px;font-weight:normal;transform:scaleX(0.97);transform-origin:right center;"><span style="font-size:0.9em;position:relative;top:-1.5px">汇添富中证主要消费</span>ETF</div><div class="t" style="left:561px;top:94.0px;color:#d2d2d2;font-size:14px;line-height:20px;font-weight:normal;transform:scaleX(0.99);transform-origin:left center;"><span style="font-size:0.9em;position:relative;top:-1.5px">委比</span></div><div class="t" style="right:179.60000000000002px;top:94.0px;color:#f72b2e;font-size:14px;line-height:20px;font-weight:normal;transform:scaleX(0.99);transform-origin:right center;">34<span style="letter-spacing:-1.3px">.</span>98%</div><div class="t" style="left:727.5px;top:94.0px;color:#d2d2d2;font-size:14px;line-height:20px;font-weight:normal;transform:scaleX(0.99);transform-origin:left center;"><span style="font-size:0.9em;position:relative;top:-1.5px">委差</span></div><div class="t" style="right:10px;top:94.0px;color:#f72b2e;font-size:14px;line-height:20px;font-weight:normal;transform:scaleX(0.99);transform-origin:right center;">414235</div><div class="t" style="left:561px;top:114.0px;color:#d2d2d2;font-size:14px;line-height:20px;font-weight:normal;transform:scaleX(0.99);transform-origin:left center;"><span style="font-size:0.9em;position:relative;top:-1.5px">卖五</span></div><div class="t" style="right:149px;top:114.0px;color:#f72b2e;font-size:14px;line-height:20px;font-weight:normal;transform:scaleX(0.99);transform-origin:right center;">0<span style="letter-spacing:-1.3px">.</span>833</div><div class="t" style="right:10px;top:114.0px;color:#e6e6e6;font-size:14px;line-height:20px;font-weight:normal;transform:scaleX(0.99);transform-origin:right center;">31155</div><div class="t" style="left:561px;top:133.0px;color:#d2d2d2;font-size:14px;line-height:20px;font-weight:normal;transform:scaleX(0.99);transform-origin:left center;"><span style="font-size:0.9em;position:relative;top:-1.5px">卖四</span></div><div class="t" style="right:149px;top:133.0px;color:#f72b2e;font-size:14px;line-height:20px;font-weight:normal;transform:scaleX(0.99);transform-origin:right center;">0<span style="letter-spacing:-1.3px">.</span>832</div><div class="t" style="right:10px;top:133.0px;color:#e6e6e6;font-size:14px;line-height:20px;font-weight:normal;transform:scaleX(0.99);transform-origin:right center;">181525</div><div class="t" style="left:561px;top:152.0px;color:#d2d2d2;font-size:14px;line-height:20px;font-weight:normal;transform:scaleX(0.99);transform-origin:left center;"><span style="font-size:0.9em;position:relative;top:-1.5px">卖三</span></div><div class="t" style="right:149px;top:152.0px;color:#f72b2e;font-size:14px;line-height:20px;font-weight:normal;transform:scaleX(0.99);transform-origin:right center;">0<span style="letter-spacing:-1.3px">.</span>831</div><div class="t" style="right:10px;top:152.0px;color:#e6e6e6;font-size:14px;line-height:20px;font-weight:normal;transform:scaleX(0.99);transform-origin:right center;">66220</div><div class="t" style="left:561px;top:171.0px;color:#d2d2d2;font-size:14px;line-height:20px;font-weight:normal;transform:scaleX(0.99);transform-origin:left center;"><span style="font-size:0.9em;position:relative;top:-1.5px">卖二</span></div><div class="t" style="right:149px;top:171.0px;color:#f72b2e;font-size:14px;line-height:20px;font-weight:normal;transform:scaleX(0.99);transform-origin:right center;">0<span style="letter-spacing:-1.3px">.</span>830</div><div class="t" style="right:10px;top:171.0px;color:#e6e6e6;font-size:14px;line-height:20px;font-weight:normal;transform:scaleX(0.99);transform-origin:right center;">55343</div><div class="t" style="left:561px;top:190.0px;color:#d2d2d2;font-size:14px;line-height:20px;font-weight:normal;transform:scaleX(0.99);transform-origin:left center;"><span style="font-size:0.9em;position:relative;top:-1.5px">卖一</span></div><div class="t" style="right:149px;top:190.0px;color:#f72b2e;font-size:14px;line-height:20px;font-weight:normal;transform:scaleX(0.99);transform-origin:right center;">0<span style="letter-spacing:-1.3px">.</span>829</div><div class="t" style="right:10px;top:190.0px;color:#e6e6e6;font-size:14px;line-height:20px;font-weight:normal;transform:scaleX(0.99);transform-origin:right center;">50722</div><div class="t" style="left:561px;top:211.0px;color:#d2d2d2;font-size:14px;line-height:20px;font-weight:normal;transform:scaleX(0.99);transform-origin:left center;"><span style="font-size:0.9em;position:relative;top:-1.5px">买一</span></div><div class="t" style="right:149px;top:211.0px;color:#f72b2e;font-size:14px;line-height:20px;font-weight:normal;transform:scaleX(0.99);transform-origin:right center;">0<span style="letter-spacing:-1.3px">.</span>828</div><div class="t" style="right:10px;top:211.0px;color:#e6e6e6;font-size:14px;line-height:20px;font-weight:normal;transform:scaleX(0.99);transform-origin:right center;">3597</div><div class="t" style="left:561px;top:230.0px;color:#d2d2d2;font-size:14px;line-height:20px;font-weight:normal;transform:scaleX(0.99);transform-origin:left center;"><span style="font-size:0.9em;position:relative;top:-1.5px">买二</span></div><div class="t" style="right:149px;top:230.0px;color:#e6e6e6;font-size:14px;line-height:20px;font-weight:normal;transform:scaleX(0.99);transform-origin:right center;">0<span style="letter-spacing:-1.3px">.</span>827</div><div class="t" style="right:10px;top:230.0px;color:#e6e6e6;font-size:14px;line-height:20px;font-weight:normal;transform:scaleX(0.99);transform-origin:right center;">60093</div><div class="t" style="left:561px;top:249.0px;color:#d2d2d2;font-size:14px;line-height:20px;font-weight:normal;transform:scaleX(0.99);transform-origin:left center;"><span style="font-size:0.9em;position:relative;top:-1.5px">买三</span></div><div class="t" style="right:149px;top:249.0px;color:#22b843;font-size:14px;line-height:20px;font-weight:normal;transform:scaleX(0.99);transform-origin:right center;">0<span style="letter-spacing:-1.3px">.</span>826</div><div class="t" style="right:10px;top:249.0px;color:#e6e6e6;font-size:14px;line-height:20px;font-weight:normal;transform:scaleX(0.99);transform-origin:right center;">19762</div><div class="t" style="left:561px;top:268.0px;color:#d2d2d2;font-size:14px;line-height:20px;font-weight:normal;transform:scaleX(0.99);transform-origin:left center;"><span style="font-size:0.9em;position:relative;top:-1.5px">买四</span></div><div class="t" style="right:149px;top:268.0px;color:#22b843;font-size:14px;line-height:20px;font-weight:normal;transform:scaleX(0.99);transform-origin:right center;">0<span style="letter-spacing:-1.3px">.</span>825</div><div class="t" style="right:10px;top:268.0px;color:#e6e6e6;font-size:14px;line-height:20px;font-weight:normal;transform:scaleX(0.99);transform-origin:right center;">69533</div><div class="t" style="left:561px;top:287.0px;color:#d2d2d2;font-size:14px;line-height:20px;font-weight:normal;transform:scaleX(0.99);transform-origin:left center;"><span style="font-size:0.9em;position:relative;top:-1.5px">买五</span></div><div class="t" style="right:149px;top:287.0px;color:#22b843;font-size:14px;line-height:20px;font-weight:normal;transform:scaleX(0.99);transform-origin:right center;">0<span style="letter-spacing:-1.3px">.</span>824</div><div class="t" style="right:10px;top:287.0px;color:#e6e6e6;font-size:14px;line-height:20px;font-weight:normal;transform:scaleX(0.99);transform-origin:right center;">646215</div><div class="t" style="left:561px;top:313.5px;color:#d2d2d2;font-size:14px;line-height:20px;font-weight:normal;transform:scaleX(0.99);transform-origin:left center;"><span style="font-size:0.9em;position:relative;top:-1.5px">总量</span></div><div class="t" style="right:179.60000000000002px;top:313.5px;color:#e6e6e6;font-size:14px;line-height:20px;font-weight:normal;transform:scaleX(0.99);transform-origin:right center;">772<span style="letter-spacing:-1.3px">.</span>68<span style="font-size:0.9em;position:relative;top:-1.5px">万</span></div><div class="t" style="left:727.5px;top:313.5px;color:#d2d2d2;font-size:14px;line-height:20px;font-weight:normal;transform:scaleX(0.99);transform-origin:left center;"><span style="font-size:0.9em;position:relative;top:-1.5px">换手</span></div><div class="t" style="right:10px;top:313.5px;color:#e6e6e6;font-size:14px;line-height:20px;font-weight:normal;transform:scaleX(0.99);transform-origin:right center;">3<span style="letter-spacing:-1.3px">.</span>95%</div><div class="t" style="left:561px;top:333.5px;color:#d2d2d2;font-size:14px;line-height:20px;font-weight:normal;transform:scaleX(0.99);transform-origin:left center;"><span style="font-size:0.9em;position:relative;top:-1.5px">现手</span></div><div class="t" style="right:179.60000000000002px;top:333.5px;color:#e6e6e6;font-size:14px;line-height:20px;font-weight:normal;transform:scaleX(0.99);transform-origin:right center;">79972</div><div class="t" style="left:727.5px;top:333.5px;color:#d2d2d2;font-size:14px;line-height:20px;font-weight:normal;transform:scaleX(0.99);transform-origin:left center;"><span style="font-size:0.9em;position:relative;top:-1.5px">量比</span></div><div class="t" style="right:10px;top:333.5px;color:#e6e6e6;font-size:14px;line-height:20px;font-weight:normal;transform:scaleX(0.99);transform-origin:right center;">1<span style="letter-spacing:-1.3px">.</span>30</div><div class="t" style="left:561px;top:353.5px;color:#d2d2d2;font-size:14px;line-height:20px;font-weight:normal;transform:scaleX(0.99);transform-origin:left center;"><span style="font-size:0.9em;position:relative;top:-1.5px">外盘</span></div><div class="t" style="right:179.60000000000002px;top:353.5px;color:#f72b2e;font-size:14px;line-height:20px;font-weight:normal;transform:scaleX(0.99);transform-origin:right center;">299<span style="letter-spacing:-1.3px">.</span>76<span style="font-size:0.9em;position:relative;top:-1.5px">万</span></div><div class="t" style="left:727.5px;top:353.5px;color:#d2d2d2;font-size:14px;line-height:20px;font-weight:normal;transform:scaleX(0.99);transform-origin:left center;"><span style="font-size:0.9em;position:relative;top:-1.5px">内盘</span></div><div class="t" style="right:10px;top:353.5px;color:#22b843;font-size:14px;line-height:20px;font-weight:normal;transform:scaleX(0.99);transform-origin:right center;">472<span style="letter-spacing:-1.3px">.</span>91<span style="font-size:0.9em;position:relative;top:-1.5px">万</span></div><div class="t" style="left:561px;top:373.5px;color:#d2d2d2;font-size:14px;line-height:20px;font-weight:normal;transform:scaleX(0.99);transform-origin:left center;"><span style="font-size:0.9em;position:relative;top:-1.5px">总额</span></div><div class="t" style="right:179.60000000000002px;top:373.5px;color:#e6e6e6;font-size:14px;line-height:20px;font-weight:normal;transform:scaleX(0.99);transform-origin:right center;">6<span style="letter-spacing:-1.3px">.</span>39<span style="font-size:0.9em;position:relative;top:-1.5px">亿</span></div><div class="t" style="left:727.5px;top:373.5px;color:#d2d2d2;font-size:14px;line-height:20px;font-weight:normal;transform:scaleX(0.99);transform-origin:left center;"><span style="font-size:0.9em;position:relative;top:-1.5px">振幅</span></div><div class="t" style="right:10px;top:373.5px;color:#e6e6e6;font-size:14px;line-height:20px;font-weight:normal;transform:scaleX(0.99);transform-origin:right center;">0<span style="letter-spacing:-1.3px">.</span>97%</div><div class="t" style="left:561px;top:393.5px;color:#d2d2d2;font-size:14px;line-height:20px;font-weight:normal;transform:scaleX(0.99);transform-origin:left center;"><span style="font-size:0.9em;position:relative;top:-1.5px">均价</span></div><div class="t" style="right:179.60000000000002px;top:393.5px;color:#f72b2e;font-size:14px;line-height:20px;font-weight:normal;transform:scaleX(0.99);transform-origin:right center;">0<span style="letter-spacing:-1.3px">.</span>827</div><div class="t" style="left:727.5px;top:393.5px;color:#d2d2d2;font-size:14px;line-height:20px;font-weight:normal;transform:scaleX(0.99);transform-origin:left center;"><span style="font-size:0.9em;position:relative;top:-1.5px">开盘</span></div><div class="t" style="right:10px;top:393.5px;color:#22b843;font-size:14px;line-height:20px;font-weight:normal;transform:scaleX(0.99);transform-origin:right center;">0<span style="letter-spacing:-1.3px">.</span>825</div><div class="t" style="left:561px;top:413.5px;color:#d2d2d2;font-size:14px;line-height:20px;font-weight:normal;transform:scaleX(0.99);transform-origin:left center;"><span style="font-size:0.9em;position:relative;top:-1.5px">最高</span></div><div class="t" style="right:179.60000000000002px;top:413.5px;color:#f72b2e;font-size:14px;line-height:20px;font-weight:normal;transform:scaleX(0.99);transform-origin:right center;">0<span style="letter-spacing:-1.3px">.</span>831</div><div class="t" style="left:727.5px;top:413.5px;color:#d2d2d2;font-size:14px;line-height:20px;font-weight:normal;transform:scaleX(0.99);transform-origin:left center;"><span style="font-size:0.9em;position:relative;top:-1.5px">最低</span></div><div class="t" style="right:10px;top:413.5px;color:#22b843;font-size:14px;line-height:20px;font-weight:normal;transform:scaleX(0.99);transform-origin:right center;">0<span style="letter-spacing:-1.3px">.</span>823</div><div class="t" style="left:561px;top:433.5px;color:#d2d2d2;font-size:14px;line-height:20px;font-weight:normal;transform:scaleX(0.99);transform-origin:left center;"><span style="font-size:0.9em;position:relative;top:-1.5px">涨停</span></div><div class="t" style="right:179.60000000000002px;top:433.5px;color:#f72b2e;font-size:14px;line-height:20px;font-weight:normal;transform:scaleX(0.99);transform-origin:right center;">0<span style="letter-spacing:-1.3px">.</span>910</div><div class="t" style="left:727.5px;top:433.5px;color:#d2d2d2;font-size:14px;line-height:20px;font-weight:normal;transform:scaleX(0.99);transform-origin:left center;"><span style="font-size:0.9em;position:relative;top:-1.5px">跌停</span></div><div class="t" style="right:10px;top:433.5px;color:#22b843;font-size:14px;line-height:20px;font-weight:normal;transform:scaleX(0.99);transform-origin:right center;">0<span style="letter-spacing:-1.3px">.</span>744</div><div class="t" style="left:561px;top:453.6px;color:#d2d2d2;font-size:14px;line-height:20px;font-weight:normal;transform:scaleX(0.99);transform-origin:left center;">IOPV</div><div class="t" style="right:181.70000000000005px;top:453.6px;color:#e6e6e6;font-size:14px;line-height:20px;font-weight:normal;transform:scaleX(0.99);transform-origin:right center;">0<span style="letter-spacing:-1.3px">.</span>8286</div><div class="t" style="left:731px;top:453.6px;color:#d2d2d2;font-size:14px;line-height:20px;font-weight:normal;transform:scaleX(0.99);transform-origin:left center;"><span style="font-size:0.9em;position:relative;top:-1.5px">溢折率</span></div><div class="t" style="right:11px;top:453.6px;color:#f72b2e;font-size:14px;line-height:20px;font-weight:normal;transform:scaleX(0.99);transform-origin:right center;">0<span style="letter-spacing:-1.3px">.</span>05%</div><div class="t" style="left:561px;top:473.6px;color:#d2d2d2;font-size:14px;line-height:20px;font-weight:normal;transform:scaleX(0.99);transform-origin:left center;"><span style="font-size:0.9em;position:relative;top:-1.5px">净值</span></div><div class="t" style="right:181.70000000000005px;top:473.6px;color:#22b843;font-size:14px;line-height:20px;font-weight:normal;transform:scaleX(0.99);transform-origin:right center;">0<span style="letter-spacing:-1.3px">.</span>8265</div><div class="t" style="left:731px;top:473.6px;color:#d2d2d2;font-size:14px;line-height:20px;font-weight:normal;transform:scaleX(0.99);transform-origin:left center;"><span style="font-size:0.9em;position:relative;top:-1.5px">升贴水率</span></div><div class="t" style="right:11px;top:473.6px;color:#f72b2e;font-size:14px;line-height:20px;font-weight:normal;transform:scaleX(0.99);transform-origin:right center;">0<span style="letter-spacing:-1.3px">.</span>30%</div><div class="t" style="left:561px;top:493.6px;color:#d2d2d2;font-size:14px;line-height:20px;font-weight:normal;transform:scaleX(0.99);transform-origin:left center;"><span style="font-size:0.9em;position:relative;top:-1.5px">流通盘</span></div><div class="t" style="right:181.70000000000005px;top:493.6px;color:#e6e6e6;font-size:14px;line-height:20px;font-weight:normal;transform:scaleX(0.99);transform-origin:right center;">195<span style="font-size:0.9em;position:relative;top:-1.5px">亿</span></div><div class="t" style="left:731px;top:493.6px;color:#d2d2d2;font-size:14px;line-height:20px;font-weight:normal;transform:scaleX(0.99);transform-origin:left center;"><span style="font-size:0.9em;position:relative;top:-1.5px">流通值</span></div><div class="t" style="right:11px;top:493.6px;color:#e6e6e6;font-size:14px;line-height:20px;font-weight:normal;transform:scaleX(0.99);transform-origin:right center;">162<span style="font-size:0.9em;position:relative;top:-1.5px">亿</span></div><div class="t" style="left:561px;top:516.0px;color:#d2d2d2;font-size:15px;line-height:20px;font-weight:normal;transform:scaleX(0.93);transform-origin:left center;">14:56:48</div><div class="t" style="right:147.39999999999998px;top:516.0px;color:#f72b2e;font-size:15px;line-height:20px;font-weight:normal;transform:scaleX(0.99);transform-origin:right center;">0<span style="letter-spacing:-1.3px">.</span>828</div><div class="t" style="right:8.399999999999977px;top:516.0px;color:#f72b2e;font-size:15px;line-height:20px;font-weight:normal;transform:scaleX(0.99);transform-origin:right center;">10210</div><div class="t" style="left:561px;top:536.0px;color:#d2d2d2;font-size:15px;line-height:20px;font-weight:normal;transform:scaleX(0.93);transform-origin:left center;">14:56:51</div><div class="t" style="right:147.39999999999998px;top:536.0px;color:#e6e6e6;font-size:15px;line-height:20px;font-weight:normal;transform:scaleX(0.99);transform-origin:right center;">0<span style="letter-spacing:-1.3px">.</span>827</div><div class="t" style="right:8.399999999999977px;top:536.0px;color:#22b843;font-size:15px;line-height:20px;font-weight:normal;transform:scaleX(0.99);transform-origin:right center;">210</div><div class="t" style="left:561px;top:556.0px;color:#d2d2d2;font-size:15px;line-height:20px;font-weight:normal;transform:scaleX(0.93);transform-origin:left center;">14:56:54</div><div class="t" style="right:147.39999999999998px;top:556.0px;color:#f72b2e;font-size:15px;line-height:20px;font-weight:normal;transform:scaleX(0.99);transform-origin:right center;">0<span style="letter-spacing:-1.3px">.</span>828</div><div class="t" style="right:8.399999999999977px;top:556.0px;color:#f72b2e;font-size:15px;line-height:20px;font-weight:normal;transform:scaleX(0.99);transform-origin:right center;">403</div><div class="t" style="left:561px;top:576.0px;color:#d2d2d2;font-size:15px;line-height:20px;font-weight:normal;transform:scaleX(0.93);transform-origin:left center;">14:56:57</div><div class="t" style="right:147.39999999999998px;top:576.0px;color:#f72b2e;font-size:15px;line-height:20px;font-weight:normal;transform:scaleX(0.99);transform-origin:right center;">0<span style="letter-spacing:-1.3px">.</span>828</div><div class="t" style="right:8.399999999999977px;top:576.0px;color:#f72b2e;font-size:15px;line-height:20px;font-weight:normal;transform:scaleX(0.99);transform-origin:right center;">5870</div><div class="t" style="left:561px;top:596.0px;color:#d2d2d2;font-size:15px;line-height:20px;font-weight:normal;transform:scaleX(0.93);transform-origin:left center;">14:57:00</div><div class="t" style="right:147.39999999999998px;top:596.0px;color:#f72b2e;font-size:15px;line-height:20px;font-weight:normal;transform:scaleX(0.99);transform-origin:right center;">0<span style="letter-spacing:-1.3px">.</span>828</div><div class="t" style="right:8.399999999999977px;top:596.0px;color:#f72b2e;font-size:15px;line-height:20px;font-weight:normal;transform:scaleX(0.99);transform-origin:right center;">23</div><div class="t" style="left:561px;top:616.0px;color:#d2d2d2;font-size:15px;line-height:20px;font-weight:normal;transform:scaleX(0.93);transform-origin:left center;">15:00:00</div><div class="t" style="right:147.39999999999998px;top:616.0px;color:#f72b2e;font-size:15px;line-height:20px;font-weight:normal;transform:scaleX(0.99);transform-origin:right center;">0<span style="letter-spacing:-1.3px">.</span>829</div><div class="t" style="right:8.399999999999977px;top:616.0px;color:#22b843;font-size:15px;line-height:20px;font-weight:normal;transform:scaleX(0.99);transform-origin:right center;">79972</div>
</body></html>
